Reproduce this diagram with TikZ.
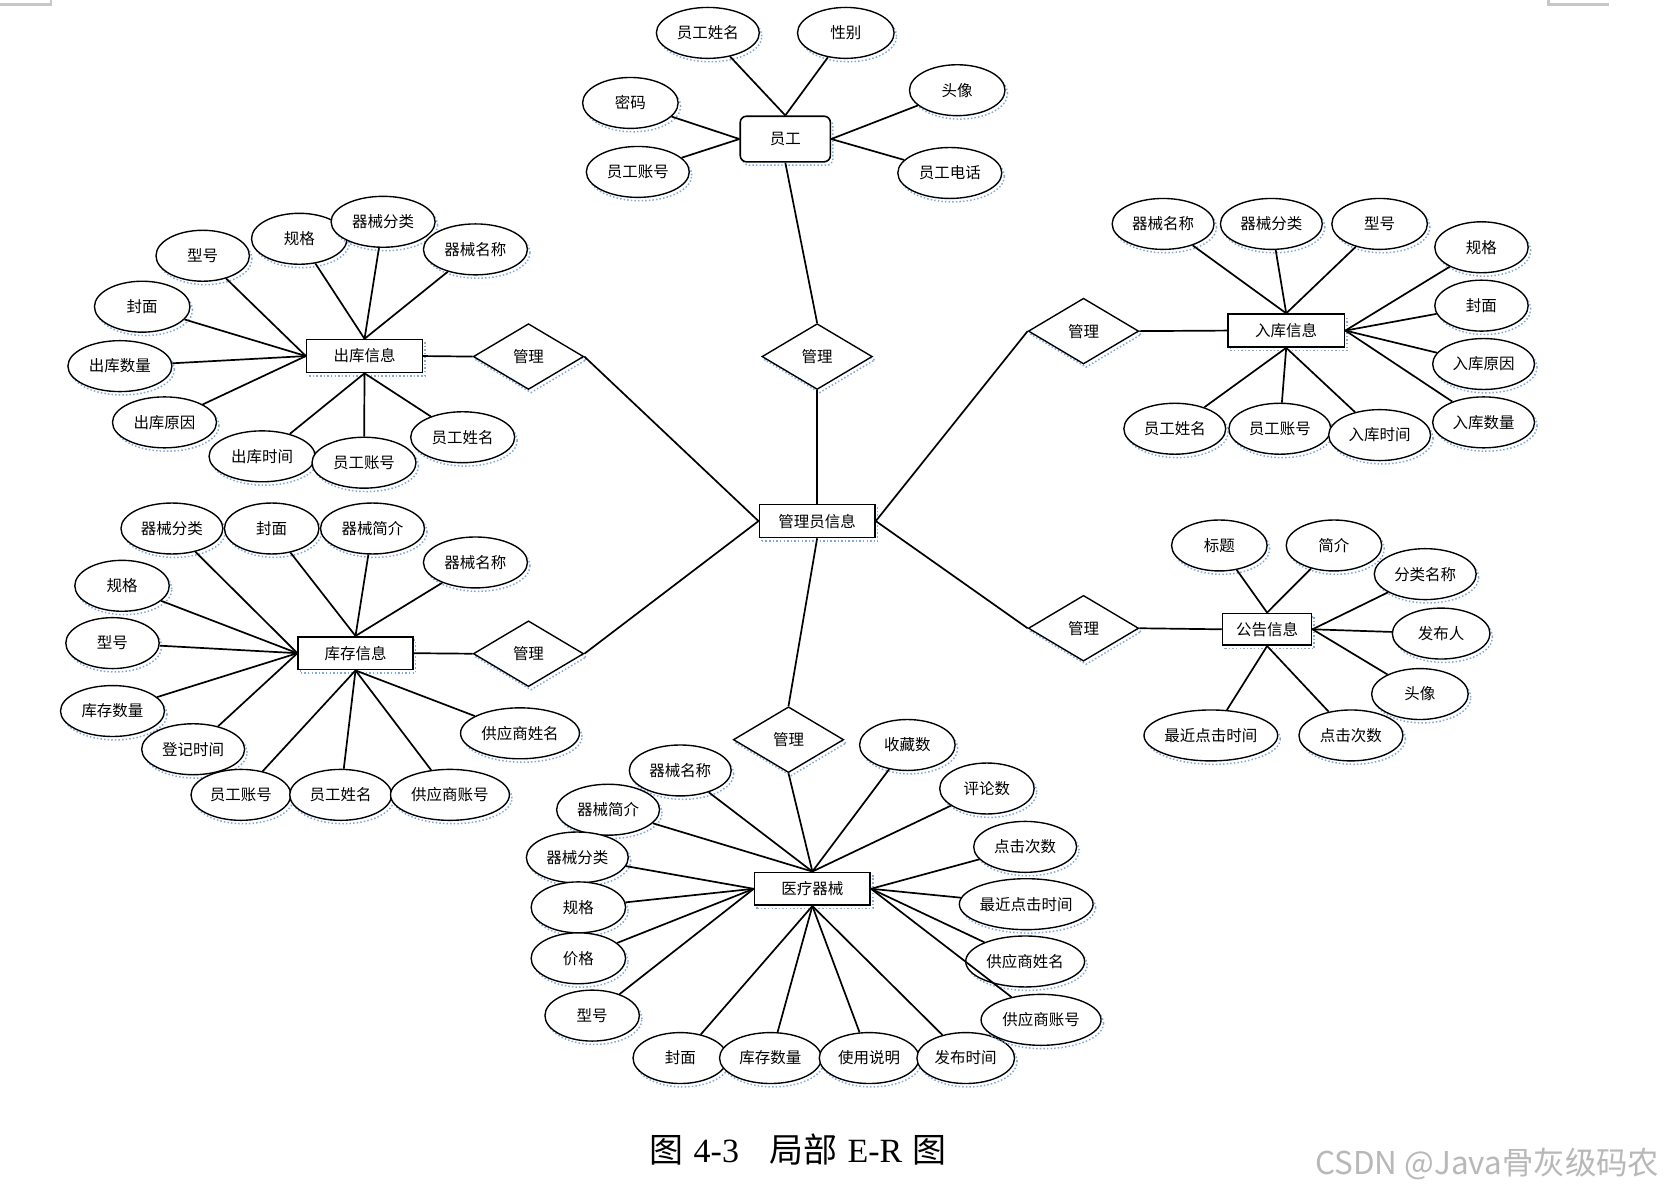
\documentclass[tikz,border=0pt]{standalone}
\usepackage{fontspec}
\setmainfont{Liberation Serif}
\newfontfamily\cjk{Noto Sans CJK SC}
\usetikzlibrary{shapes.geometric}
\definecolor{shadowblue}{HTML}{7FA8E0}
\tikzset{
  shadowed/.style={preaction={draw=shadowblue, densely dotted, line width=0.7pt,
      transform canvas={shift={(1.2pt,-1.6pt)}}}},
  lbl/.style={font=\cjk\fontsize{7.3pt}{8pt}\selectfont, inner sep=0pt},
  attr/.style={lbl, ellipse, draw, line width=0.65pt, fill=white,
      minimum height=48*0.5pt, minimum width=#1*0.5pt, shadowed},
  attr/.default=96,
  ent/.style={lbl, rectangle, draw, line width=0.75pt, fill=white,
      minimum height=31*0.5pt, minimum width=#1*0.5pt, shadowed},
  ent/.default=109,
  rel/.style={lbl, diamond, draw, line width=0.65pt, fill=white,
      minimum width=104*0.5pt, minimum height=62*0.5pt, shadowed},
  conn/.style={line width=0.8pt},
  crop/.style={draw=black!22, line width=1.2pt}
}
\begin{document}
\begin{tikzpicture}[x=0.5pt,y=-0.5pt]
\useasboundingbox[fill=white] (0,0) rectangle (1568,1125);

% crop marks
\draw[crop] (0,4) -- (48,4) -- (48,0);
\draw[crop] (1459,0) -- (1459,4) -- (1516,4);

% ---------- employee ----------
\node[ent, rounded corners=3pt, minimum width=85*0.5pt, minimum height=43*0.5pt] (yg) at (740,131) {员工};
\node[attr=97] (yg1) at (667,31) {员工姓名};
\node[attr=91] (yg2) at (797,31) {性别};
\node[attr=90] (yg3) at (594,97) {密码};
\node[attr=97] (yg4) at (601,162) {员工账号};
\node[attr=90] (yg5) at (902,85) {头像};
\node[attr=98] (yg6) at (895,163) {员工电话};
\node[rel] (rYG) at (770,336) {管理};

% ---------- central ----------
\node[ent] (gly) at (770,491) {管理员信息};

% ---------- 出库信息 ----------
\node[ent] (ck) at (343.5,335.5) {出库信息};
\node[rel] (rCK) at (498,336) {管理};
\node[attr=88] (ck1) at (191,241) {型号};
\node[attr=90] (ck2) at (282,225) {规格};
\node[attr=98] (ck3) at (361,209) {器械分类};
\node[attr=98] (ck4) at (448,235) {器械名称};
\node[attr=90] (ck5) at (134,289) {封面};
\node[attr=98] (ck6) at (113,345) {出库数量};
\node[attr=98] (ck7) at (155,398) {出库原因};
\node[attr=100] (ck8) at (247,430) {出库时间};
\node[attr=98] (ck9) at (343,436) {员工账号};
\node[attr=98] (ck10) at (436,412) {员工姓名};

% ---------- 库存信息 ----------
\node[ent=108] (kc) at (335,615.5) {库存信息};
\node[rel] (rKC) at (498,616) {管理};
\node[attr=96] (kc1) at (162,498) {器械分类};
\node[attr=89] (kc2) at (256,498) {封面};
\node[attr=98] (kc3) at (351,498) {器械简介};
\node[attr=98] (kc4) at (448,530) {器械名称};
\node[attr=89] (kc5) at (115,552) {规格};
\node[attr=88] (kc6) at (106,606) {型号};
\node[attr=98] (kc7) at (106,670) {库存数量};
\node[attr=97] (kc8) at (182,706) {登记时间};
\node[attr=94] (kc9) at (227,749) {员工账号};
\node[attr=96] (kc10) at (321,749) {员工姓名};
\node[attr=112] (kc11) at (424,749) {供应商账号};
\node[attr=112] (kc12) at (490,691) {供应商姓名};

% ---------- 入库信息 ----------
\node[ent=110] (rk) at (1212,311.5) {入库信息};
\node[rel] (rRK) at (1021,312) {管理};
\node[attr=96] (rk1) at (1096,211) {器械名称};
\node[attr=96] (rk2) at (1198,211) {器械分类};
\node[attr=90] (rk3) at (1300,211) {型号};
\node[attr=88] (rk4) at (1396,233) {规格};
\node[attr=88] (rk5) at (1396,288) {封面};
\node[attr=96] (rk6) at (1398,343) {入库原因};
\node[attr=96] (rk7) at (1398,398) {入库数量};
\node[attr=96] (rk8) at (1107,404) {员工姓名};
\node[attr=96] (rk9) at (1206,404) {员工账号};
\node[attr=96] (rk10) at (1300,410) {入库时间};

% ---------- 公告信息 ----------
\node[ent=84, minimum height=30*0.5pt] (gg) at (1194,593) {公告信息};
\node[rel] (rGG) at (1021,592) {管理};
\node[attr=90] (gg1) at (1149,514) {标题};
\node[attr=90] (gg2) at (1257,514) {简介};
\node[attr=96] (gg3) at (1343,541) {分类名称};
\node[attr=92] (gg4) at (1358,597) {发布人};
\node[attr=91] (gg5) at (1338,654) {头像};
\node[attr=126] (gg6) at (1141,693) {最近点击时间};
\node[attr=98] (gg7) at (1273,693) {点击次数};

% ---------- 医疗器械 ----------
\node[ent] (yl) at (765.5,837.5) {医疗器械};
\node[rel] (rYL) at (743,697) {管理};
\node[attr=96] (yl1) at (641,726) {器械名称};
\node[attr=97] (yl2) at (573,763) {器械简介};
\node[attr=96] (yl3) at (544,808) {器械分类};
\node[attr=89] (yl4) at (545,855) {规格};
\node[attr=89] (yl5) at (545,903) {价格};
\node[attr=89] (yl6) at (558,957) {型号};
\node[attr=89] (yl7) at (641,997) {封面};
\node[attr=96] (yl8) at (726,997) {库存数量};
\node[attr=94] (yl9) at (819,997) {使用说明};
\node[attr=92] (yl10) at (910,997) {发布时间};
\node[attr=90] (yl11) at (855,702) {收藏数};
\node[attr=89] (yl12) at (930,743) {评论数};
\node[attr=97] (yl13) at (966,798) {点击次数};
\node[attr=126] (yl14) at (967,852) {最近点击时间};
\node[attr=112] (yl15) at (966,906) {供应商姓名};
\node[attr=113] (yl16) at (981,961) {供应商账号};

% ---------- connectors ----------
\begin{scope}[conn]
% employee
\draw (yg1) -- (yg.north);
\draw (yg2) -- (yg.north);
\draw (yg3) -- (yg.west);
\draw (yg4) -- (yg.west);
\draw (yg5) -- (yg.east);
\draw (yg6) -- (yg.east);
\draw (yg.south) -- (rYG.north);
\draw (rYG.south) -- (gly.north);
% central
\draw (rCK.east) -- (gly.west);
\draw (rKC.east) -- (gly.west);
\draw (rRK.west) -- (gly.east);
\draw (rGG.west) -- (gly.east);
\draw (rYL.north) -- (gly.south);
% 出库
\draw (ck.east) -- (rCK.west);
\foreach \n in {ck1,ck5,ck6,ck7} \draw (\n) -- (ck.west);
\foreach \n in {ck2,ck3,ck4} \draw (\n) -- (ck.north);
\foreach \n in {ck8,ck9,ck10} \draw (\n) -- (ck.south);
% 库存
\draw (kc.east) -- (rKC.west);
\foreach \n in {kc1,kc5,kc6,kc7,kc8} \draw (\n) -- (kc.west);
\foreach \n in {kc2,kc3,kc4} \draw (\n) -- (kc.north);
\foreach \n in {kc9,kc10,kc11,kc12} \draw (\n) -- (kc.south);
% 入库
\draw (rRK.east) -- (rk.west);
\foreach \n in {rk1,rk2,rk3} \draw (\n) -- (rk.north);
\foreach \n in {rk4,rk5,rk6,rk7} \draw (\n) -- (rk.east);
\foreach \n in {rk8,rk9,rk10} \draw (\n) -- (rk.south);
% 公告
\draw (rGG.east) -- (gg.west);
\foreach \n in {gg1,gg2} \draw (\n) -- (gg.north);
\foreach \n in {gg3,gg4,gg5} \draw (\n) -- (gg.east);
\foreach \n in {gg6,gg7} \draw (\n) -- (gg.south);
% 医疗器械
\draw (rYL.south) -- (yl.north);
\foreach \n in {yl1,yl2,yl11,yl12} \draw (\n) -- (yl.north);
\foreach \n in {yl3,yl4,yl5,yl6} \draw (\n) -- (yl.west);
\foreach \n in {yl7,yl8,yl9,yl10} \draw (\n) -- (yl.south);
\foreach \n in {yl13,yl14,yl15,yl16} \draw (\n) -- (yl.east);
\end{scope}

% caption and watermark
\node[inner sep=0pt, font=\fontsize{16pt}{18pt}\selectfont] (cap) at (752,1083)
  {{\cjk 图}\hspace{0.3em}4-3\hspace{0.9em}{\cjk 局部}\hspace{0.3em}E-R\hspace{0.3em}{\cjk 图}};
\node[inner sep=0pt, anchor=east, text=black!28, font=\cjk\fontsize{14.8pt}{16pt}\selectfont] (wm) at (1564,1097)
  {CSDN @Java骨灰级码农};
\end{tikzpicture}
\end{document}
